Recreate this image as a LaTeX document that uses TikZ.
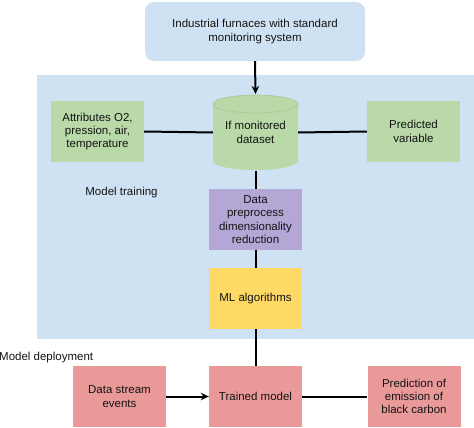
\documentclass[tikz,border=0pt]{standalone}
\usepackage{fontspec}
\setmainfont{Liberation Sans}
\usetikzlibrary{arrows.meta}
\definecolor{lblue}{HTML}{CFE2F3}
\definecolor{lgreen}{HTML}{B9D9A8}
\definecolor{dgreen}{HTML}{A6C994}
\definecolor{lpurple}{HTML}{B4A7D6}
\definecolor{lyellow}{HTML}{FFD966}
\definecolor{lred}{HTML}{EA9999}
\definecolor{txt}{HTML}{141414}
\tikzset{
  box/.style={rectangle, minimum width=93pt, minimum height=61pt, inner sep=0pt, align=center, text=txt, font=\fontsize{11.5}{13.3}\selectfont},
  greenbox/.style={box, fill=lgreen},
  purplebox/.style={box, fill=lpurple},
  yellowbox/.style={box, fill=lyellow},
  redbox/.style={box, fill=lred},
  label/.style={text=txt, font=\fontsize{11.5}{13.3}\selectfont, inner sep=0pt},
  conn/.style={line width=2pt, black},
  arr/.style={conn, -{Stealth[length=8pt,width=7.5pt]}}
}
\begin{document}
\begin{tikzpicture}[x=1pt,y=-1pt]
\useasboundingbox (0,0) rectangle (474,428);
% panel
\fill[lblue] (37,75) rectangle (474,339);
% top box
\node[box, fill=lblue, rounded corners=9pt, minimum width=220pt, minimum height=59pt] (top) at (255,31.5) {Industrial furnaces with standard\\monitoring system};
% cylinder
\fill[lgreen] (213,104) -- (213,161) arc (180:0:42.5 and 9) -- (298,104) arc (0:-180:42.5 and 9) -- cycle;
\draw[dgreen, line width=0.6pt] (255.5,104) ellipse (42.5 and 9);
\node[label, align=center, minimum width=85pt, minimum height=76pt] (cyl) at (255.5,132.5) {If monitored\\dataset};
\coordinate (cyltop) at (255.5,94);
% green boxes
\node[greenbox] (attr) at (97.5,131.5) {Attributes O2,\\pression, air,\\temperature};
\node[greenbox] (pred) at (413.5,131.5) {Predicted\\variable};
\node[label, anchor=center] (mt) at (121.5,193) {Model training};
\node[purplebox] (prep) at (255.5,219.5) {Data\\preprocess\\dimensionality\\reduction};
\node[yellowbox] (ml) at (255.5,298.5) {ML algorithms};
\node[label, anchor=west] (md) at (-1,358) {Model deployment};
\node[redbox] (ds) at (119.5,396.5) {Data stream\\events};
\node[redbox] (tm) at (255.5,396.5) {Trained model};
\node[redbox] (pe) at (414,396.5) {Prediction of\\emission of\\black carbon};
% connectors
\draw[arr] (top.south) -- (cyltop);
\draw[conn] (attr.east) -- (cyl.west);
\draw[conn] (cyl.east) -- (pred.west);
\draw[conn] (cyl.south) -- (prep.north);
\draw[conn] (prep.south) -- (ml.north);
\draw[conn] (ml.south) -- (tm.north);
\draw[arr] (ds.east) -- (tm.west);
\draw[conn] (tm.east) -- (pe.west);
\end{tikzpicture}
\end{document}
